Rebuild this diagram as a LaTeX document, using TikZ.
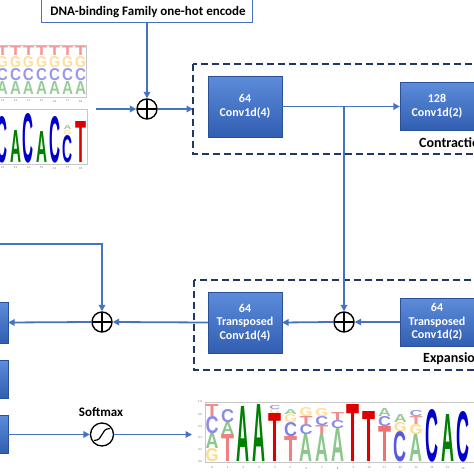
\documentclass[tikz,border=0pt]{standalone}
\usepackage{fontspec}
\usepackage{graphicx}
\setmainfont{Carlito}
\newfontfamily\logofont{Liberation Sans}
\usetikzlibrary{arrows.meta}

\definecolor{flowblue}{RGB}{68,114,196}
\definecolor{framenavy}{RGB}{32,56,100}
\definecolor{boxtop}{RGB}{92,140,218}
\definecolor{boxbot}{RGB}{50,94,178}
\definecolor{lgA}{RGB}{0,128,0}
\definecolor{lgC}{RGB}{0,0,204}
\definecolor{lgG}{RGB}{255,176,0}
\definecolor{lgT}{RGB}{222,0,0}

\tikzset{
  flow/.style={draw=flowblue,line width=1.8pt,-{Triangle[length=6.5pt,width=6.5pt]}},
  flowline/.style={draw=flowblue,line width=1.8pt},
  dashbox/.style={draw=framenavy,line width=1.9pt,dash pattern=on 7pt off 4pt},
  encbox/.style={rectangle,draw=flowblue,line width=1.3pt,fill=white,inner sep=0pt},
  convbox/.style={rectangle,top color=boxtop,bottom color=boxbot,draw=boxbot!85!black,
    line width=0.3pt,text=white,font=\fontsize{12}{13.5}\selectfont\bfseries,align=center,inner sep=0pt},
  sumnode/.style={circle,draw=black,line width=1.4pt,minimum size=20pt,inner sep=0pt,
    path picture={\draw[line width=1.4pt] (path picture bounding box.north) -- (path picture bounding box.south)
      (path picture bounding box.west) -- (path picture bounding box.east);}},
  softnode/.style={circle,draw=black,line width=1.3pt,minimum size=23pt,inner sep=0pt,
    path picture={\draw[line width=1.2pt] ([shift={(-8pt,-6pt)}]path picture bounding box.center)
      .. controls ([shift={(2pt,-6pt)}]path picture bounding box.center) and ([shift={(-2pt,6pt)}]path picture bounding box.center)
      .. ([shift={(8pt,6pt)}]path picture bounding box.center);}},
  lbl/.style={font=\fontsize{13}{15}\selectfont\bfseries,inner sep=0pt},
  seclbl/.style={font=\fontsize{14}{16}\selectfont\bfseries,inner sep=0pt,anchor=west},
  ticklbl/.style={font=\fontsize{3}{3}\selectfont,text=black!55,inner sep=0pt},
  logoframe/.style={draw=black!22,line width=0.5pt},
  lgletter/.style={anchor=south,inner sep=0pt,font=\logofont\bfseries}
}

% one stretched letter of a sequence logo: x, bottom, width, height, letter, colour
\newcount\lgcount
\newcommand{\lgchar}[6]{%
  \global\advance\lgcount by 1
  \node[lgletter,text=#6] (lg\the\lgcount) at (#1,#2) {\resizebox{#3pt}{#4pt}{#5}};}

\begin{document}
\begin{tikzpicture}[x=1pt,y=-1pt]
\useasboundingbox (0,0) rectangle (474,474);
\clip (0,0) rectangle (474,474);

% input logos
\draw[logoframe] (-5,45) rectangle (86,97);
\foreach \x in {2.5,15.5,...,80.5} {
  \lgchar{\x}{95}{11}{13}{A}{lgA!40}
  \lgchar{\x}{81}{11}{12}{C}{lgC!40}
  \lgchar{\x}{68}{11}{11}{G}{lgG!40}
  \lgchar{\x}{56}{11}{9}{T}{lgT!40}
}
\foreach \i [count=\k from 0] in {12,...,18}
  \node[ticklbl] (ta\i) at (2.5+13*\k,101) {\i};

\draw[logoframe] (-5,109) rectangle (87,164);
\lgchar{2.5}{163}{11}{46}{C}{lgC}
\lgchar{15.5}{163}{11}{32}{A}{lgA}
\lgchar{28.5}{163}{11}{49}{C}{lgC}
\lgchar{41.5}{163}{11}{31}{A}{lgA}
\lgchar{54.5}{163}{11}{46}{C}{lgC}
\lgchar{67.5}{163}{10}{27}{C}{lgC}
\lgchar{67.5}{135}{8}{4}{G}{lgG!40}
\lgchar{67.5}{130}{8}{4}{A}{lgA!40}
\lgchar{80.5}{163}{11}{41}{T}{lgT}
\foreach \i [count=\k from 0] in {12,...,18}
  \node[ticklbl] (tb\i) at (2.5+13*\k,168) {\i};

% family encoding and first merge
\node[encbox,minimum width=211pt,minimum height=44pt,anchor=south] (enc) at (147,23) {};
\node[lbl] (enclabel) at (148,12) {DNA-binding Family one-hot encode};
\node[sumnode] (sumA) at (147,109) {};
\coordinate (logoout) at (96,109);
\coordinate (contrin) at (193,109);
\draw[flow] (enc.south) -- (sumA.north);
\draw[flow] (logoout) -- (sumA.west);
\draw[flow] (sumA.east) -- (contrin);

% contraction
\draw[dashbox] (193,64) rectangle (490,154);
\node[convbox,minimum width=74pt,minimum height=61pt] (conv1) at (245,106.5) {64\\Conv1d(4)};
\node[convbox,minimum width=74pt,minimum height=48pt] (conv2) at (437,106.5) {128\\Conv1d(2)};
\node[seclbl] (contr) at (419,142.5) {Contraction};
\coordinate (split) at (344,106.5);
\draw[flow] (conv1.east) -- (conv2.west);

% expansion
\draw[dashbox] (194,280) rectangle (490,370);
\node[convbox,minimum width=74pt,minimum height=61pt] (tconv1) at (245,322.5) {64\\Transposed\\Conv1d(4)};
\node[convbox,minimum width=74pt,minimum height=48pt] (tconv2) at (437,322) {64\\Transposed\\Conv1d(2)};
\node[seclbl] (expa) at (423,359) {Expansion};
\node[sumnode] (sumC) at (344,322) {};
\draw[flow] (split) -- (sumC.north);
\draw[flow] (tconv2.west) -- (sumC.east);
\draw[flow] (sumC.west) -- (tconv1.east);

% output side
\node[sumnode] (sumB) at (102,322) {};
\coordinate (skipin) at (-2,244);
\draw[flow] (tconv1.west) -- (sumB.east);
\draw[flow] (skipin) -| (sumB.north);
\node[convbox,minimum width=30pt,minimum height=41pt] (out1) at (-7,322.5) {};
\node[convbox,minimum width=30pt,minimum height=38pt] (out2) at (-7,379) {};
\node[convbox,minimum width=30pt,minimum height=38pt] (out3) at (-7,434.5) {};
\draw[flow] (sumB.west) -- (out1.east);

\node[softnode] (soft) at (102,434.5) {};
\node[lbl] (softlbl) at (101,412) {Softmax};
\coordinate (logoin) at (192,434.5);
\draw[flow] (out3.east) -- (soft.west);
\draw[flow] (soft.east) -- (logoin);

% predicted logo
\draw[logoframe] (205,402) rectangle (490,462);
\foreach \v [count=\k from 0] in {0.0,0.2,0.4,0.6,0.8,1.0}
  \node[ticklbl] (yl\k) at (200,462-12*\k) {\v};
\foreach \i in {0,...,16}
  \node[ticklbl] (tc\i) at (212+15.7*\i,468) {\i};
% col 0
\lgchar{212}{462}{13}{13}{G}{lgG!45}
\lgchar{212}{449}{13}{15}{A}{lgA!45}
\lgchar{212}{434}{13}{17}{C}{lgC!45}
\lgchar{212}{417}{13}{12}{T}{lgT!45}
% col 1
\lgchar{227.7}{462}{13}{27}{T}{lgT!50}
\lgchar{227.7}{435}{13}{12}{A}{lgA!45}
\lgchar{227.7}{423}{13}{13}{C}{lgC!45}
% cols 2--4
\lgchar{243.4}{462}{13}{55}{A}{lgA}
\lgchar{259.1}{462}{13}{57}{A}{lgA}
\lgchar{274.8}{462}{13}{48}{T}{lgT}
\lgchar{274.8}{414}{11}{4}{G}{lgG!40}
\lgchar{274.8}{410}{11}{4}{C}{lgC!40}
% col 5
\lgchar{290.5}{462}{13}{25}{T}{lgT!50}
\lgchar{290.5}{437}{13}{14}{C}{lgC!50}
\lgchar{290.5}{423}{13}{8}{G}{lgG!40}
\lgchar{290.5}{415}{13}{5}{A}{lgA!40}
% col 6
\lgchar{306.2}{462}{13}{27}{A}{lgA!45}
\lgchar{306.2}{435}{13}{10}{C}{lgC!45}
\lgchar{306.2}{425}{13}{8}{T}{lgT!45}
\lgchar{306.2}{417}{13}{9}{G}{lgG!40}
% col 7
\lgchar{321.9}{462}{13}{27}{A}{lgA!45}
\lgchar{321.9}{435}{13}{9}{T}{lgT!45}
\lgchar{321.9}{426}{13}{9}{C}{lgC!45}
\lgchar{321.9}{417}{13}{8}{G}{lgG!40}
% col 8
\lgchar{337.6}{462}{13}{33}{A}{lgA!45}
\lgchar{337.6}{429}{13}{8}{C}{lgC!45}
\lgchar{337.6}{421}{13}{8}{T}{lgT!45}
% cols 9--10
\lgchar{353.3}{462}{13}{57}{T}{lgT}
\lgchar{369}{462}{13}{50}{T}{lgT}
% col 11
\lgchar{384.7}{462}{13}{35}{T}{lgT!55}
\lgchar{384.7}{427}{13}{10}{C}{lgC!45}
\lgchar{384.7}{417}{13}{8}{A}{lgA!40}
% col 12
\lgchar{400.4}{462}{13}{30}{C}{lgC!65}
\lgchar{400.4}{432}{13}{9}{G}{lgG!45}
\lgchar{400.4}{423}{13}{8}{A}{lgA!40}
% col 13
\lgchar{416.1}{462}{13}{27}{A}{lgA!45}
\lgchar{416.1}{435}{13}{10}{G}{lgG!45}
\lgchar{416.1}{425}{13}{8}{T}{lgT!40}
\lgchar{416.1}{417}{13}{6}{C}{lgC!40}
% cols 14--16
\lgchar{431.8}{462}{13}{52}{C}{lgC}
\lgchar{447.5}{462}{13}{47}{A}{lgA}
\lgchar{463.2}{462}{13}{50}{C}{lgC}
\end{tikzpicture}
\end{document}
